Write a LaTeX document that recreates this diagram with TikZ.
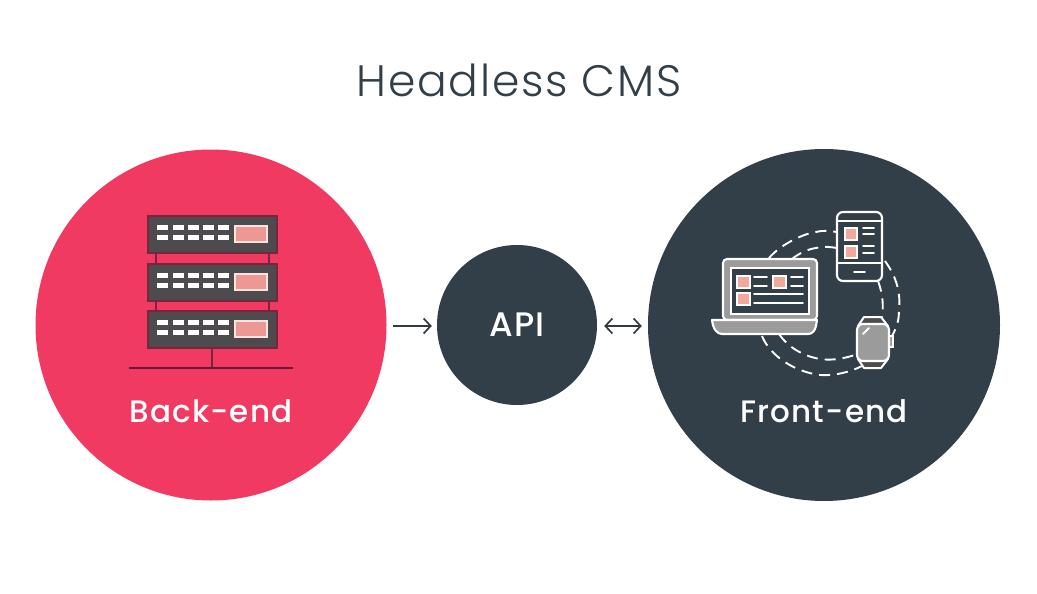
\documentclass[tikz,border=0pt]{standalone}
\usepackage{fontspec}
\setmainfont{Poppins}
\newfontfamily\lightf[UprightFont=* Light,LetterSpace=4]{Poppins}
\newfontfamily\labf[UprightFont=* Medium,LetterSpace=4]{Poppins}
\usetikzlibrary{arrows.meta}
\definecolor{pinkc}{HTML}{F03A62}
\definecolor{darkc}{HTML}{323F48}
\definecolor{srv}{HTML}{4D4B4E}
\definecolor{srvline}{HTML}{7C2340}
\definecolor{scr}{HTML}{EE9896}
\definecolor{scrb}{HTML}{FBE3DE}
\definecolor{sq}{HTML}{F2A99C}
\definecolor{grayc}{HTML}{9B9B9B}
\definecolor{arrowc}{HTML}{333B40}
\tikzset{
  disc/.style={circle,inner sep=0pt,draw=none},
  lab/.style={text=white,inner sep=0pt,font=\labf\fontsize{31}{35}\selectfont},
  rack/.style={fill=srv,draw=srvline,line width=1.4pt},
  led/.style={fill=white,draw=none},
  link/.style={draw=srvline,line width=2.2pt},
  conn/.style={draw=arrowc,line width=1.7pt},
  wl/.style={draw=white,line width=1.9pt,line cap=round,line join=round},
  dashw/.style={draw=white,line width=1.9pt,dash pattern=on 11pt off 7pt},
  devg/.style={fill=grayc,draw=white,line width=2.1pt,line join=round},
  devd/.style={fill=darkc,draw=white,line width=1.9pt},
  sqr/.style={fill=sq,draw=white,line width=1.6pt},
  barb/.tip={Straight Barb[length=7pt,width=15pt]}
}
\newcommand{\rackat}[1]{%
  \draw[rack] (148,#1) rectangle (277,#1+37);
  \foreach \cx in {157,172.5,188,203,218}{
    \fill[led] (\cx,#1+9) rectangle (\cx+11,#1+14);
    \fill[led] (\cx,#1+18.5) rectangle (\cx+11,#1+23.5);
  }
  \draw[fill=scr,draw=scrb,line width=2pt] (234.5,#1+9.5) rectangle (266.5,#1+26);
}
\begin{document}
\begin{tikzpicture}[x=1pt,y=-1pt]
\useasboundingbox (0,0) rectangle (1037,594);
\fill[white] (0,0) rectangle (1037,594);
\node[disc,fill=pinkc,minimum size=351pt] (back) at (211,325) {};
\node[disc,fill=darkc,minimum size=160pt] (api) at (517,325) {};
\node[disc,fill=darkc,minimum size=352pt] (front) at (824,325) {};
\node[text=darkc,inner sep=0pt,font=\lightf\fontsize{44}{48}\selectfont] (title) at (519,80) {Headless CMS};
\node[lab,font=\labf\fontsize{34}{38}\selectfont] (apilab) at (517,325) {API};
\node[lab] (backlab) at (211,411) {Back-end};
\node[lab] (frontlab) at (824,411) {Front-end};
\draw[conn,-{barb},shorten <=6pt,shorten >=5pt] ([yshift=-1pt]back.east) -- ([yshift=-1pt]api.west);
\draw[conn,{barb}-{barb},shorten <=7pt,shorten >=6pt] ([yshift=-1pt]api.east) -- ([yshift=-1pt]front.west);
% server
\draw[link] (156,253) -- (156,264) (269,253) -- (269,264) (156,301) -- (156,311) (269,301) -- (269,311);
\rackat{216}\rackat{264}\rackat{311}
\draw[link] (212,348) -- (212,368);
\draw[draw=srvline!80!black,line width=1.8pt] (129,368) -- (293,368);
% dashed orbits
\draw[dashw] (769,258) .. controls (782,243) and (806,233) .. (816,232) .. controls (824,230) and (830,231) .. (837,232);
\draw[dashw] (792,259) .. controls (798,254) and (808,249) .. (816,248) .. controls (824,246) and (830,247) .. (837,248);
\draw[dashw] (885,261) .. controls (895,275) and (901,290) .. (899,310) .. controls (899,320) and (897,327) .. (892,336);
\draw[dashw] (878,281) .. controls (882,292) and (884,303) .. (882,318);
\draw[dashw] (762,336) .. controls (770,356) and (795,372) .. (820,375) .. controls (835,376) and (850,372) .. (862,366);
\draw[dashw] (779,334) .. controls (787,346) and (802,356) .. (820,359) .. controls (833,361) and (846,358) .. (858,354);
% phone
\draw[fill=darkc,draw=white,line width=2.1pt,rounded corners=6pt] (837,212) rectangle (882,281);
\draw[wl] (837,221) -- (882,221) (837,263) -- (882,263) (854,272) -- (865,272);
\draw[sqr] (845,228) rectangle (857,240);
\draw[sqr] (845,246) rectangle (857,258);
\draw[wl] (863,228) -- (874,228) (863,234) -- (874,234) (863,246) -- (874,246) (863,253) -- (874,253);
% laptop
\draw[devg,rounded corners=4pt] (723,320) -- (723,259) -- (817,259) -- (817,320) -- cycle;
\draw[devd] (731,268) rectangle (809,314);
\draw[devg] (712,320) -- (817,320) -- (816,326) .. controls (815,331) and (812,334) .. (808,334) -- (722,334) .. controls (717,334) and (713,329) .. (712,320) -- cycle;
\draw[sqr] (737,276) rectangle (750,288);
\draw[sqr] (773,276) rectangle (786,288);
\draw[sqr] (737,293) rectangle (750,305);
\draw[wl] (754,277) -- (767,277) (754,286) -- (767,286) (791,277) -- (803,277) (791,286) -- (803,286) (754,294) -- (803,294) (754,303) -- (803,303);
% watch
\draw[fill=srv,draw=white,line width=2pt,line join=round] (858,326) -- (864,317) -- (881,317) -- (888,326) -- cycle;
\draw[fill=srv,draw=white,line width=2pt,line join=round] (858,359) -- (864,368) -- (881,368) -- (888,359) -- cycle;
\draw[fill=grayc,draw=white,line width=1.6pt] (889,336) rectangle (893,347);
\draw[devg,rounded corners=6pt] (857,324) rectangle (889,361);
\draw[wl] (863,334) -- (869,328);
\end{tikzpicture}
\end{document}
